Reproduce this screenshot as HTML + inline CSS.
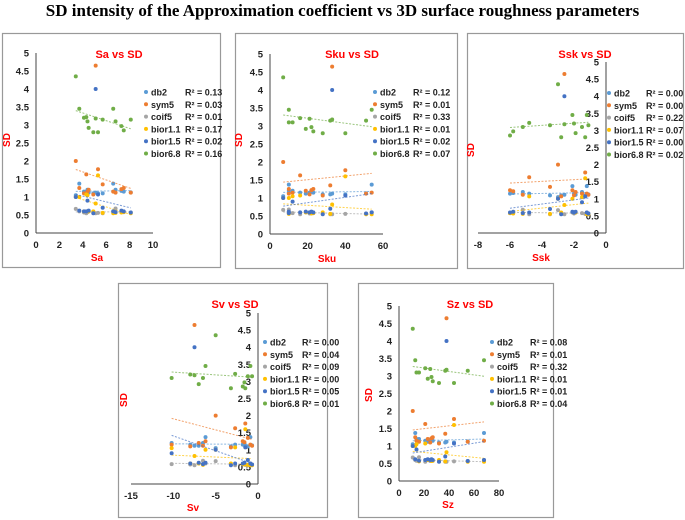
<!DOCTYPE html>
<html><head><meta charset="utf-8">
<style>
body{margin:0;width:685px;height:520px;background:#fff;overflow:hidden;font-family:"Liberation Sans",sans-serif;}
#title{position:absolute;left:0;top:1px;width:685px;text-align:center;font:bold 17px "Liberation Serif",serif;color:#000;white-space:nowrap;}
svg{position:absolute;left:0;top:0;}
</style></head><body>
<div id="title">SD intensity of the Approximation coefficient vs 3D surface roughness parameters</div>
<svg id="s" width="685" height="520"></svg>
<script>
const seriesNames=["db2","sym5","coif5","bior1.1","bior1.5","bior6.8"];
const seriesColors=["#5B9BD5","#ED7D31","#A5A5A5","#FFC000","#4472C4","#70AD47"];
const yDb2=[1.05,1.37,1.15,1.15,1.2,1.12,1.1,1.12,1.1,1.1,1.37,1.2,1.17,1.15,1.13];
const ySym5=[2.0,1.25,1.1,1.63,1.15,1.2,1.07,4.65,1.77,1.35,1.15,1.12,1.22,1.25,1.12];
const yCoif5=[0.67,0.6,0.57,0.55,0.58,0.6,0.56,0.55,0.56,0.55,0.6,0.68,0.6,0.58,0.57];
const yBior11=[1.0,1.0,0.6,1.07,1.05,0.6,0.6,0.82,1.6,0.56,0.55,0.56,0.57,0.58,0.55];
const yBior15=[1.0,0.62,0.6,0.6,0.9,0.62,0.55,4.0,1.07,0.7,0.6,0.58,0.62,0.6,0.57];
const yBior68=[4.35,3.45,3.2,3.22,3.1,2.92,2.8,3.18,2.8,3.15,3.45,3.1,2.97,2.85,3.15];
const xSa=[3.4,3.7,4.1,4.3,4.4,4.5,4.9,5.1,5.3,5.7,6.6,6.8,7.3,7.5,8.1];
const xSku=[7,10,21,16,12,19,28,33,40,32,54,10,22,23,51];
const xSsk=[-3.0,-2.1,-2.0,-4.8,-1.5,-1.9,-2.8,-2.6,-1.3,-3.5,-1.2,-5.2,-5.8,-6.0,-1.1];
const xSv=[-5,-6.2,-8,-2.7,-10.2,-7,-3.2,-7.5,-1.5,-1.2,-0.9,-6.5,-1.6,-1.8,-0.7];
const xSz=[11,13,25,21,14,23,32,38,44,37,68,16,26,27,55];
const r2Sa=["0.13","0.03","0.01","0.17","0.02","0.16"];
const r2Sku=["0.12","0.01","0.33","0.01","0.02","0.07"];
const r2Ssk=["0.00","0.00","0.22","0.07","0.00","0.02"];
const r2Sv=["0.00","0.04","0.09","0.00","0.05","0.01"];
const r2Sz=["0.08","0.01","0.32","0.01","0.01","0.04"];
const yTicks=[0,0.5,1,1.5,2,2.5,3,3.5,4,4.5,5];
const ys=[yDb2,ySym5,yCoif5,yBior11,yBior15,yBior68];
const NS="http://www.w3.org/2000/svg";
const svg=document.getElementById("s");
function el(t,a,p){const e=document.createElementNS(NS,t);for(const k in a)e.setAttribute(k,a[k]);(p||svg).appendChild(e);return e;}
const panels=[
 {key:"sa",name:"Sa",xs:xSa,r2:r2Sa,xt:[0,2,4,6,8,10],xmin:0,xmax:10,frame:[2,33,218,234],px0:36,px1:153,py0:233,py5:53,title:[119,58],xl:[97,261],yl:[10,140],leg:[146,92],r2x:185},
 {key:"sku",name:"Sku",xs:xSku,r2:r2Sku,xt:[0,20,40,60],xmin:0,xmax:60,frame:[235,33,222,235],px0:270,px1:383,py0:234,py5:54,title:[352,58],xl:[327,262],yl:[242,140],leg:[375,92],r2x:413},
 {key:"ssk",name:"Ssk",xs:xSsk,r2:r2Ssk,xt:[-8,-6,-4,-2,0],xmin:-8,xmax:0,frame:[467,33,216,235],px0:478,px1:606,py0:233,py5:62,title:[585,58],xl:[541,261],yl:[474,150],leg:[609,93],r2x:646},
 {key:"sv",name:"Sv",xs:xSv,r2:r2Sv,xt:[-15,-10,-5,0],xmin:-15,xmax:0,frame:[118,283,209,234],px0:131,px1:258,py0:484,py5:313,title:[235,308],xl:[193,511],yl:[127,400],leg:[265,342],r2x:302},
 {key:"sz",name:"Sz",xs:xSz,r2:r2Sz,xt:[0,20,40,60,80],xmin:0,xmax:80,frame:[358,283,195,234],px0:399,px1:499,py0:481,py5:306,title:[470,308],xl:[448,508],yl:[372,395],leg:[492,342],r2x:530}
];
panels.forEach(P=>{
 const g=el("g",{});
 
 
 const f=P.frame;
 const fr=el("rect",{x:f[0]+0.5,y:f[1]+0.5,width:f[2],height:f[3],fill:"none",stroke:"#999","stroke-width":1.2},g);
 
 
 const X=v=>P.px0+(v-P.xmin)/(P.xmax-P.xmin)*(P.px1-P.px0);
 const Y=v=>P.py0+(P.py5-P.py0)*v/5;
 const ax0=X(0);
 const ya=el("line",{x1:ax0,x2:ax0,y1:P.py5,y2:P.py0,stroke:"#444","stroke-width":1},g);
 
 
 const xa=el("line",{x1:P.px0,x2:P.px1,y1:P.py0,y2:P.py0,stroke:"#444","stroke-width":1},g);
 
 
 yTicks.forEach(t=>{
  const tx=el("text",{x:ax0-7,y:Y(t)+3.5,"text-anchor":"end","font-size":9.5,"font-weight":"bold",fill:"#222"},g);
  tx.textContent=String(t);
  
  
 });
 P.xt.forEach(t=>{
  const tx=el("text",{x:X(t),y:P.py0+15,"text-anchor":"middle","font-size":9.5,"font-weight":"bold",fill:"#222"},g);
  tx.textContent=String(t);
  
  
 });
 const tt=el("text",{x:P.title[0],y:P.title[1],"text-anchor":"middle","font-size":11,"font-weight":"bold",fill:"#ff0000"},g);
 tt.textContent=P.name+" vs SD";
 
 
 const xl=el("text",{x:P.xl[0],y:P.xl[1],"text-anchor":"middle","font-size":10,"font-weight":"bold",fill:"#ff0000"},g);
 xl.textContent=P.name;
 
 
 const yl=el("text",{x:P.yl[0],y:P.yl[1],"text-anchor":"middle","font-size":10,"font-weight":"bold",fill:"#ff0000",transform:`rotate(-90 ${P.yl[0]} ${P.yl[1]})`},g);
 yl.textContent="SD";
 
 
 ys.forEach((arr,si)=>{
  const xs=P.xs,n=xs.length;
  let sx=0,sy=0,sxx=0,sxy=0;
  for(let i=0;i<n;i++){sx+=xs[i];sy+=arr[i];sxx+=xs[i]*xs[i];sxy+=xs[i]*arr[i];}
  const b=(n*sxy-sx*sy)/(n*sxx-sx*sx),a=(sy-b*sx)/n;
  const mn=Math.min(...xs),mx=Math.max(...xs);
  const tl=el("line",{x1:X(mn),y1:Y(a+b*mn),x2:X(mx),y2:Y(a+b*mx),stroke:seriesColors[si],"stroke-width":1,"stroke-dasharray":"2,1.5",opacity:0.7},g);
  
  
  for(let i=0;i<n;i++){
   const c=el("circle",{cx:X(xs[i]),cy:Y(arr[i]),r:2,fill:seriesColors[si]},g);
   
   
  }
  const ly=P.leg[1]+si*12.3;
  const lm=el("circle",{cx:P.leg[0],cy:ly,r:2,fill:seriesColors[si]},g);
  
  
  const lt=el("text",{x:P.leg[0]+5,y:ly+3.5,"font-size":9,"font-weight":"bold",fill:"#222"},g);
  lt.textContent=seriesNames[si];
  
  
  const rt=el("text",{x:P.r2x,y:ly+3.5,"font-size":9,"font-weight":"bold",fill:"#222"},g);
  rt.textContent="R² = "+P.r2[si];
  
  
 });
});
</script>
</body></html>
